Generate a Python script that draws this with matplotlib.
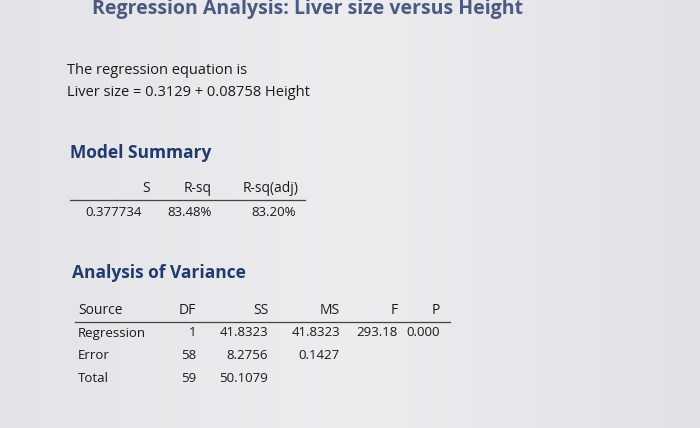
import matplotlib.pyplot as plt
import numpy as np

title = "Regression Analysis: Liver size versus Height"
equation = ["The regression equation is", "Liver size = 0.3129 + 0.08758 Height"]

summary_cols = ["S", "R-sq", "R-sq(adj)"]
summary_vals = ["0.377734", "83.48%", "83.20%"]

anova_cols = ["Source", "DF", "SS", "MS", "F", "P"]
anova_rows = [
    ["Regression", "1", "41.8323", "41.8323", "293.18", "0.000"],
    ["Error", "58", "8.2756", "0.1427", "", ""],
    ["Total", "59", "50.1079", "", "", ""],
]

fig = plt.figure(figsize=(7, 4.28), dpi=100)
ax = fig.add_axes([0, 0, 1, 1])
ax.set_xlim(0, 700)
ax.set_ylim(428, 0)
ax.axis("off")

# screen-ish background with soft gradient
grad = np.linspace(0, 1, 256).reshape(1, -1)
ax.imshow(grad, extent=[0, 700, 428, 0], cmap=plt.matplotlib.colors.LinearSegmentedColormap.from_list(
    "bg", ["#e4e4e8", "#ededf0", "#e2e2e6"]), aspect="auto", zorder=0)

font = "Open Sans"
txt = "#1a1a1a"
head = "#1f3a6e"

ax.text(308, 9, title, fontsize=14, fontweight="bold", color="#4a5a80",
        ha="center", va="center", family=font)

ax.text(67, 70, equation[0], fontsize=10.5, color=txt, va="center", family=font)
ax.text(67, 92, equation[1], fontsize=10.5, color=txt, va="center", family=font)

ax.text(70, 153, "Model Summary", fontsize=12.5, fontweight="bold", color=head,
        va="center", family=font)
sx = [150, 212, 299]
for x, c in zip(sx, summary_cols):
    ax.text(x, 188, c, fontsize=10, color=txt, ha="right", va="center", family=font)
sv = [142, 212, 296]
for x, v in zip(sv, summary_vals):
    ax.text(x, 212, v, fontsize=9.5, color=txt, ha="right", va="center", family=font)
ax.plot([70, 305], [200, 200], color="#444", lw=0.9)

ax.text(72, 273, "Analysis of Variance", fontsize=12.5, fontweight="bold", color=head,
        va="center", family=font)
ax_x = [78, 196, 268, 340, 398, 440]
for i, c in enumerate(anova_cols):
    ax.text(ax_x[i], 310, c, fontsize=10, color=txt, ha="left" if i == 0 else "right",
            va="center", family=font)
ax.plot([75, 450], [322, 322], color="#444", lw=0.9)
for r, row in enumerate(anova_rows):
    y = 333 + r * 22.5
    for i, v in enumerate(row):
        ax.text(ax_x[i], y, v, fontsize=9.5, color=txt, ha="left" if i == 0 else "right",
                va="center", family=font)

fig.savefig("out.png", dpi=100)
